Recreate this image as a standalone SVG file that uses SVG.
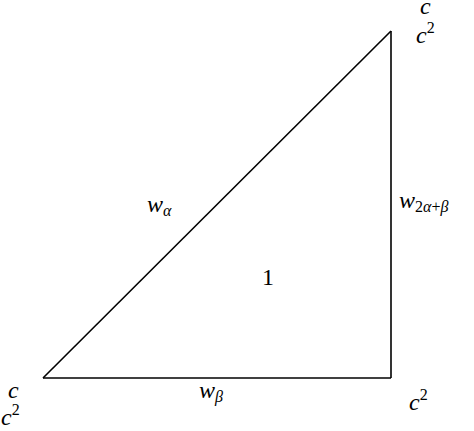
<svg xmlns="http://www.w3.org/2000/svg" width="474" height="431" viewBox="0 0 474 431">
<style>
.m{font-family:"Liberation Serif","DejaVu Serif",serif;font-style:italic;font-size:24px;fill:#000}
.s{font-size:16px}
.u{font-style:normal}
.e{fill:none;stroke:#000;stroke-width:1.6}
</style>
<rect width="474" height="431" fill="#fff"/>
<g id="connectors">
<path class="e" d="M43,378 L391,31"/>
<path class="e" d="M43,378 L391,378"/>
<path class="e" d="M391,31 L391,378"/>
</g>
<g id="node-top">
<text class="m" x="420" y="14">c</text>
<text class="m" x="416" y="43">c<tspan class="s u" dy="-10">2</tspan></text>
</g>
<g id="node-bottom-left">
<text class="m" x="8" y="398">c</text>
<text class="m" x="1" y="425">c<tspan class="s u" dy="-10">2</tspan></text>
</g>
<g id="node-bottom-right">
<text class="m" x="409" y="410">c<tspan class="s u" dy="-10">2</tspan></text>
</g>
<g id="labels">
<text class="m" x="147" y="212">w<tspan class="s" dy="4">α</tspan></text>
<text class="m" x="399" y="208">w<tspan class="s u" dy="4">2</tspan><tspan class="s">α</tspan><tspan class="s u">+</tspan><tspan class="s">β</tspan></text>
<text class="m" x="199" y="398">w<tspan class="s" dy="4">β</tspan></text>
<text class="m u" x="262" y="285">1</text>
</g>
</svg>
